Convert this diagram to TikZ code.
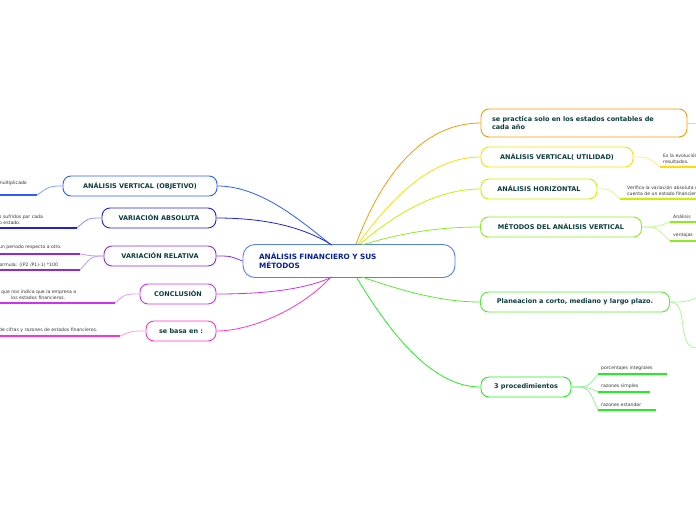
\documentclass[tikz,border=0pt]{standalone}
\usepackage{fontspec}
\setmainfont{DejaVu Sans}
\begin{document}
\begin{tikzpicture}[x=1pt,y=-1pt,
  box/.style={draw,line width=0.9pt,rounded corners=8pt,fill=white,text=txt,font=\bfseries\fontsize{6.5}{7.8}\selectfont,inner sep=0pt,minimum height=20pt},
  leaf/.style={font=\fontsize{4.6}{6}\selectfont,text=black!80,align=left,inner sep=0pt},
  br/.style={line width=0.8pt},
  ul/.style={line width=1.6pt}]
\definecolor{txt}{HTML}{0B3D3D}
\definecolor{cA}{HTML}{2A5CFF}\definecolor{cB}{HTML}{2020E0}\definecolor{cC}{HTML}{8A2BE2}
\definecolor{cD}{HTML}{CC33EE}\definecolor{cE}{HTML}{FF33CC}
\definecolor{cF}{HTML}{FF9900}\definecolor{cG}{HTML}{FFDD00}\definecolor{cH}{HTML}{CCEE00}
\definecolor{cI}{HTML}{88EE22}\definecolor{cJ}{HTML}{55EE33}\definecolor{cK}{HTML}{22EE22}
\useasboundingbox (0,0) rectangle (696,520);
\node[box,draw=cA!80!white,text width=180pt,inner xsep=16pt,minimum height=33pt,rounded corners=12pt,align=left,font=\bfseries\fontsize{7.3}{9}\selectfont,text=txt!50!blue] (c) at (349,261) {ANÁLISIS FINANCIERO Y SUS\\MÉTODOS};
% left nodes
\node[box,draw=cA,minimum width=154pt] (a) at (140,186) {ANÁLISIS VERTICAL (OBJETIVO)};
\node[box,draw=cB,minimum width=114pt] (b) at (159,218) {VARIACIÓN ABSOLUTA};
\node[box,draw=cC,minimum width=112pt] (r) at (160,256) {VARIACIÓN RELATIVA};
\node[box,draw=cD,minimum width=76pt] (co) at (178,294) {CONCLUSIÓN};
\node[box,draw=cE,minimum width=70pt] (sb) at (181,331) {se basa en :};
% right nodes
\node[box,draw=cF,minimum width=206pt,minimum height=28pt,align=left] (p) at (584,123) {\parbox{184pt}{se practica solo en los estados contables de\\cada año}};
\node[box,draw=cG,minimum width=152pt] (u) at (557,157) {ANÁLISIS VERTICAL( UTILIDAD)};
\node[box,draw=cH,minimum width=116pt] (h) at (539,189) {ANÁLISIS HORIZONTAL};
\node[box,draw=cI,minimum width=161pt] (m) at (561,227) {MÉTODOS DEL ANÁLISIS VERTICAL};
\node[box,draw=cJ,minimum width=189pt] (pl) at (575,302) {Planeacion a corto, mediano y largo plazo.};
\node[box,draw=cK,minimum width=90pt] (tp) at (526,387) {3 procedimientos};
% center connectors
\draw[br,cA] (330,244) .. controls (300,220) and (260,186) .. (a.east);
\draw[br,cB] (332,245) .. controls (300,225) and (260,218) .. (b.east);
\draw[br,cC] (c.west) .. controls (230,256) .. (r.east);
\draw[br,cD] (332,277) .. controls (300,292) and (250,294) .. (co.east);
\draw[br,cE] (330,278) .. controls (300,310) and (250,331) .. (sb.east);
\draw[br,cF] (356,244) .. controls (380,180) and (420,123) .. (p.west);
\draw[br,cG] (358,244) .. controls (390,200) and (430,157) .. (u.west);
\draw[br,cH] (360,244) .. controls (400,210) and (440,189) .. (h.west);
\draw[br,cI] (362,245) .. controls (410,230) and (450,227) .. (m.west);
\draw[br,cJ] (362,277) .. controls (400,290) and (440,302) .. (pl.west);
\draw[br,cK] (357,278) .. controls (400,350) and (440,387) .. (tp.west);
% left leaves
\coordinate (a1) at (37,195);
\draw[br,cA!60!white] (a.west) .. controls (50,186) .. (a1);
\draw[ul,cA] (a1) -- (0,195);
\node[leaf,anchor=south east] (ta) at (27,186) {multiplicado};
\coordinate (b1) at (77,228);
\draw[br,cB!50!white] (b.west) .. controls (88,218) .. (b1);
\draw[ul,cB] (b1) -- (0,228);
\node[leaf,anchor=south west] (tb) at (-1,225) {s sufridos por cada\\o estado.};
\coordinate (r1) at (80,254);\coordinate (r2) at (80,270);
\draw[br,cC!50!white] (r.west) .. controls (92,256) .. (r1);
\draw[br,cC!50!white] (r.west) .. controls (92,256) .. (r2);
\draw[ul,cC] (r1) -- (0,254);\draw[ul,cC] (r2) -- (0,270);
\node[leaf,anchor=south west] (tr1) at (-1,250) {un periodo respecto a otro.};
\node[leaf,anchor=south west] (tr2) at (-3,267) {Formula: ((P2 /P1)-1) *100};
\coordinate (co1) at (115,303);
\draw[br,cD!50!white] (co.west) .. controls (125,294) .. (co1);
\draw[ul,cD] (co1) -- (0,303);
\node[leaf,anchor=south west] (tco) at (1,300) {que nos indica que la empresa a\\\hspace*{10pt}los estados financieros.};
\coordinate (sb1) at (120,336);
\draw[br,cE!50!white] (sb.west) .. controls (132,331) .. (sb1);
\draw[ul,cE] (sb1) -- (0,336);
\node[leaf,anchor=south west] (tsb) at (-1,333) {de cifras y razones de estados financieros.};
% right leaves
\coordinate (p1) at (696,123);
\draw[br,cF!50!white] (p.east) -- (p1);
\coordinate (u1) at (660,167);
\draw[br,cG!50!white] (u.east) .. controls (648,157) .. (u1);
\draw[ul,cG] (u1) -- (700,167);
\node[leaf,anchor=south west] (tu) at (663,164) {Es la evolución de los\\resultados.};
\coordinate (h1) at (620,199);
\draw[br,cH!50!white] (h.east) .. controls (610,189) .. (h1);
\draw[ul,cH] (h1) -- (700,199);
\node[leaf,anchor=south west] (th) at (627,196) {Verifica la variación absoluta de\\cuenta de un estado financiero};
\coordinate (m1) at (670,222);\coordinate (m2) at (670,241);
\draw[br,cI!50!white] (m.east) .. controls (656,227) .. (m1);
\draw[br,cI!50!white] (m.east) .. controls (656,227) .. (m2);
\draw[ul,cI] (m1) -- (700,222);\draw[ul,cI] (m2) -- (700,241);
\node[leaf,anchor=south west] (tm1) at (673,219) {Análisis};
\node[leaf,anchor=south west] (tm2) at (673,238) {ventajas};
\coordinate (pl1) at (697,298);\coordinate (pl2) at (697,348);
\draw[br,cJ!50!white] (pl.east) .. controls (685,302) .. (pl1);
\draw[br,cJ!50!white] (pl.east) .. controls (690,302) and (675,348) .. (pl2);
\coordinate (t1) at (598,374);\coordinate (t2) at (598,392);\coordinate (t3) at (598,410);
\foreach \k in {1,2,3}{\draw[br,cK!50!white] (tp.east) .. controls (588,387) .. (t\k);}
\draw[ul,cK] (t1) -- (667,374);\draw[ul,cK] (t2) -- (650,392);\draw[ul,cK] (t3) -- (656,410);
\node[leaf,anchor=south west] (tt1) at (601,371) {porcentajes integrales};
\node[leaf,anchor=south west] (tt2) at (601,389) {razones simples};
\node[leaf,anchor=south west] (tt3) at (601,407) {razones estandar};
\end{tikzpicture}
\end{document}
